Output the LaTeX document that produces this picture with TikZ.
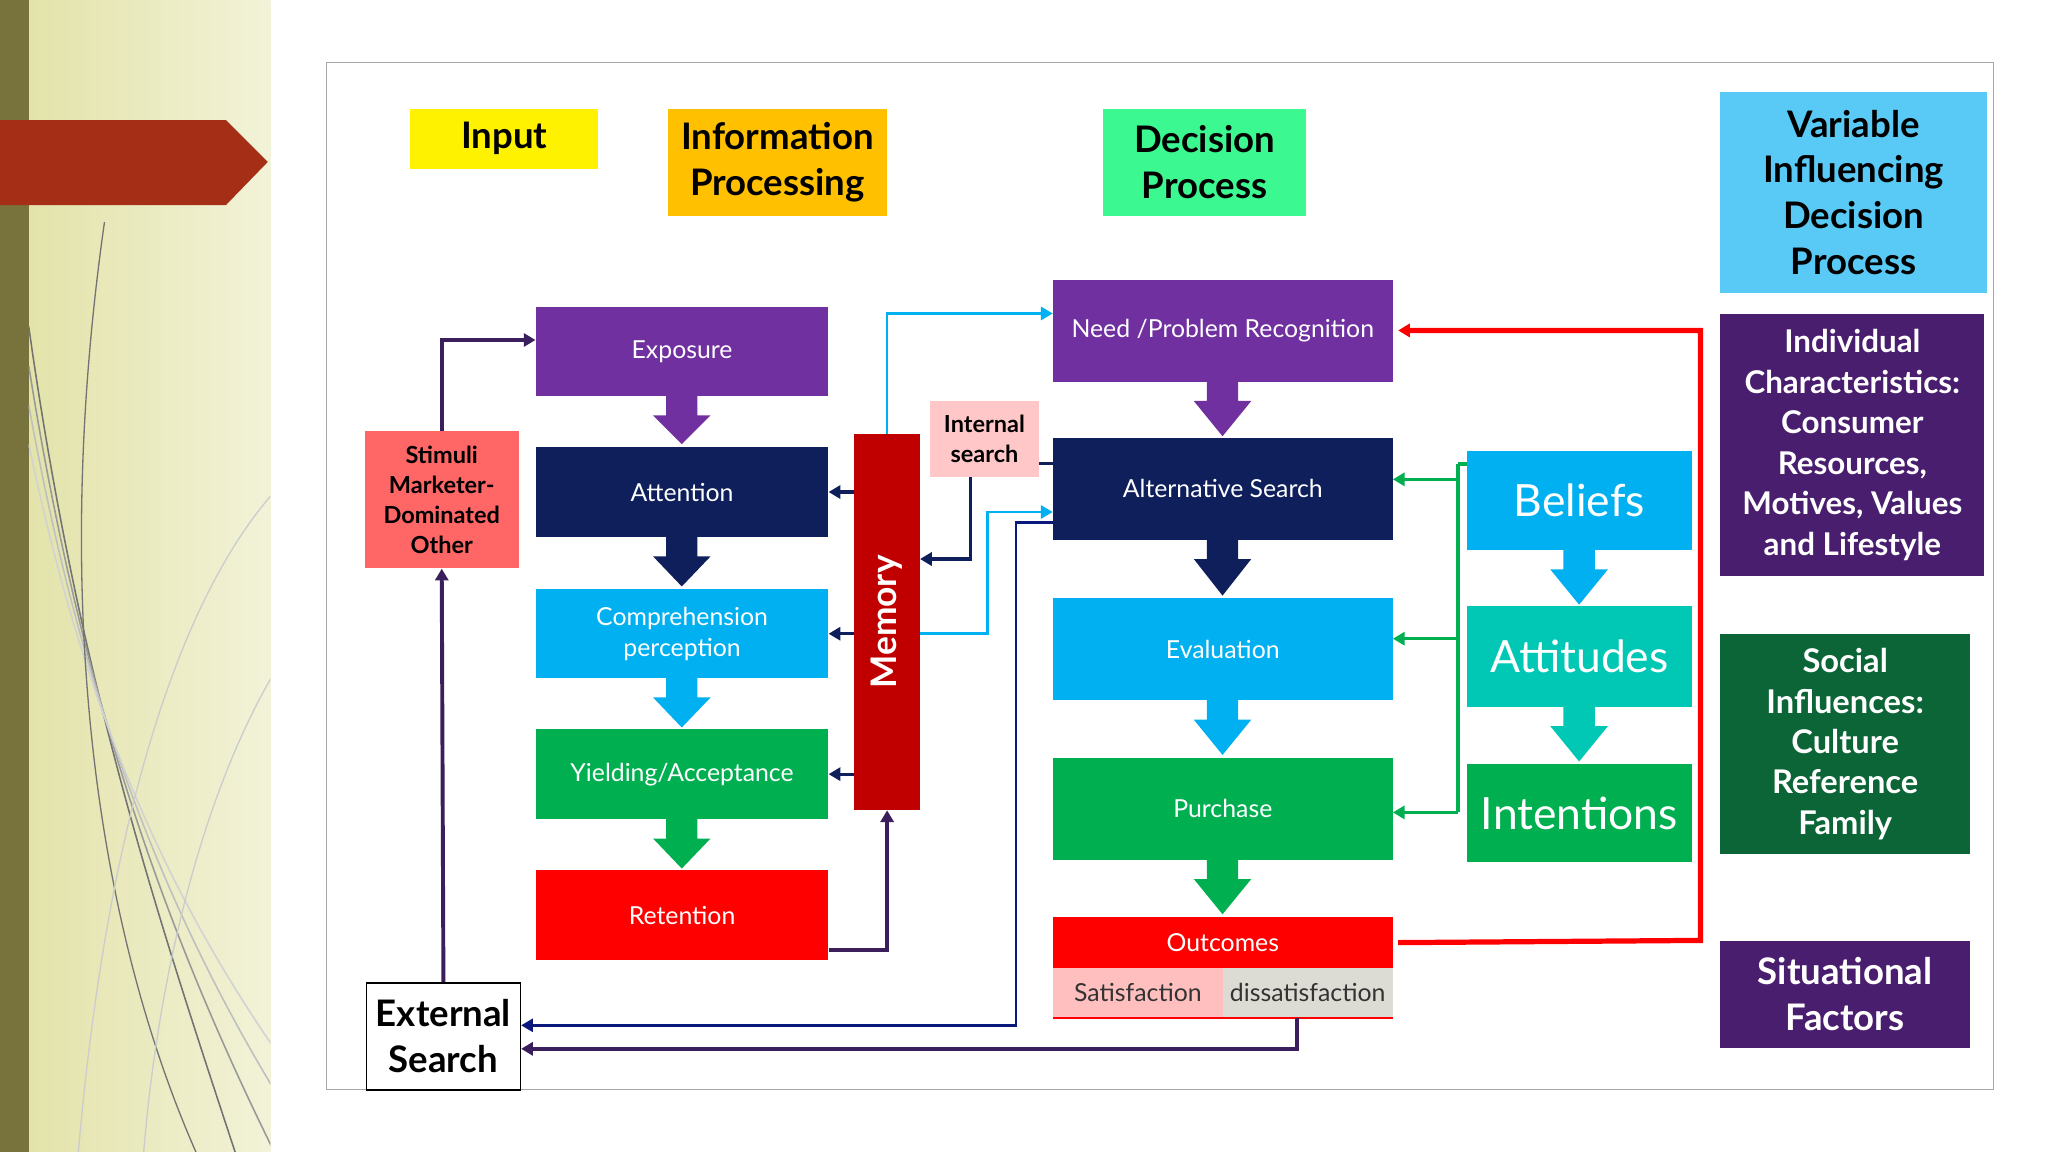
\documentclass[tikz,border=0pt]{standalone}
\usepackage{fontspec}
\setmainfont{Lato}
\usetikzlibrary{arrows.meta,positioning,calc}
\definecolor{cPurple}{HTML}{7030A0}
\definecolor{cNavy}{HTML}{0E1F5B}
\definecolor{cSky}{HTML}{00B0F0}
\definecolor{cGreen}{HTML}{00B050}
\definecolor{cRed}{HTML}{FF0000}
\definecolor{cMaroon}{HTML}{C00000}
\definecolor{cTeal}{HTML}{00C8B4}
\definecolor{cDkPurple}{HTML}{4A1E6E}
\definecolor{cDkGreen}{HTML}{0B6536}
\definecolor{cLink}{HTML}{3B1F5C}
\definecolor{cAmber}{HTML}{FFC000}
\definecolor{cMint}{HTML}{3CF890}
\definecolor{cBanner}{HTML}{A52E17}
\tikzset{
  box/.style={inner sep=0pt, align=center, text=white, anchor=north west},
  head/.style={box, text=black, font=\fontsize{28}{35}\selectfont\bfseries},
  side/.style={box, font=\fontsize{24}{31}\selectfont\bfseries},
  stage/.style={box, font=\fontsize{19}{24}\selectfont},
  big/.style={box, font=\fontsize{34}{38}\selectfont},
  link/.style={line width=3pt, -{Triangle[length=9pt,width=10pt]}},
}
% block arrow: x, top, bottom, colour
\newcommand{\blockdown}[4]{%
  \fill[#4] (#1-12,#2) -- (#1+12,#2) -- (#1+12,#2+15) -- (#1+22,#2+15)
    -- (#1,#3) -- (#1-22,#2+15) -- (#1-12,#2+15) -- cycle;}
\begin{document}
\begin{tikzpicture}[x=1pt,y=-1pt]
\useasboundingbox (0,0) rectangle (1568,882);
% slide background
\fill[white] (0,0) rectangle (1568,882);
\fill[left color=olive!22!white, right color=olive!10!white] (22,0) rectangle (207,882);
\fill[black!30!olive!70!gray] (0,0) rectangle (22,882);
\begin{scope}
\clip (22,0) rectangle (207,882);
\foreach \s/\c in {0/black!55, 30/black!40, 60/gray!50, 90/gray!35}
  \draw[\c, line width=1.2pt] (22,250+\s) .. controls (60,520) and (120,700) .. (180+\s,882);
\draw[black!55, line width=1pt] (80,170) .. controls (40,450) and (70,700) .. (150,882);
\draw[gray!40, line width=1pt] (207,380) .. controls (130,470) and (80,650) .. (60,882);
\draw[gray!40, line width=1pt] (207,520) .. controls (150,620) and (120,760) .. (110,882);
\end{scope}
\fill[cBanner] (0,92) -- (173,92) -- (205,124) -- (173,157) -- (0,157) -- cycle;
% frame
\draw[gray!70, line width=0.8pt] (250,48) rectangle (1526,834);

% headings
\node[head, fill=yellow, minimum width=144, minimum height=46] (input) at (314,83) {Input};
\node[head, fill=cAmber, minimum width=168, minimum height=82] (info) at (511,83) {Information\\Processing};
\node[head, fill=cMint, minimum width=156, minimum height=82] (decp) at (844,83) {Decision\\Process};
\node[head, fill=cyan!65, minimum width=204, minimum height=154] (var) at (1317,70) {Variable\\Influencing\\Decision\\Process};
\node[side, fill=cDkPurple, minimum width=202, minimum height=201] (indiv) at (1317,240) {Individual\\Characteristics:\\Consumer\\Resources,\\Motives, Values\\and Lifestyle};
\node[side, fill=cDkGreen, minimum width=191, minimum height=169, font=\fontsize{25}{31}\selectfont\bfseries] (social) at (1317,485) {Social\\Influences:\\Culture\\Reference\\Family};
\node[side, fill=cDkPurple, minimum width=191, minimum height=82, font=\fontsize{28}{35}\selectfont\bfseries] (situ) at (1317,720) {Situational\\Factors};

% information processing
\node[stage, fill=cPurple, minimum width=224, minimum height=68] (expo) at (410,235) {Exposure};
\node[stage, fill=cNavy, minimum width=224, minimum height=69] (atten) at (410,342) {Attention};
\node[stage, fill=cSky, minimum width=224, minimum height=68] (compr) at (410,451) {Comprehension\\perception};
\node[stage, fill=cGreen, minimum width=224, minimum height=69] (yield) at (410,558) {Yielding/Acceptance};
\node[stage, fill=cRed, minimum width=224, minimum height=69] (reten) at (410,666) {Retention};
\blockdown{522}{303}{340}{cPurple}
\blockdown{522}{411}{449}{cNavy}
\blockdown{522}{519}{557}{cSky}
\blockdown{522}{627}{665}{cGreen}

\node[box, fill=cMaroon, minimum width=50, minimum height=288] (mem) at (654,332) {};
\node[rotate=90, text=white, font=\fontsize{27}{30}\selectfont\bfseries] at (mem.center) {Memory};

\node[box, fill=red!60, text=black, minimum width=118, minimum height=105, font=\fontsize{18}{23}\selectfont\bfseries] (stim) at (279,330) {Stimuli\\Marketer-\\Dominated\\Other};
\node[box, draw=black, line width=1pt, fill=white, text=black, minimum width=118, minimum height=82, font=\fontsize{28}{35}\selectfont\bfseries] (ext) at (280,752) {External\\Search};

% decision process
\node[stage, fill=cPurple, minimum width=260, minimum height=78] (need) at (806,214) {Need /Problem Recognition};
\node[stage, fill=cNavy, minimum width=260, minimum height=78] (alt) at (806,335) {Alternative Search};
\node[stage, fill=cSky, minimum width=260, minimum height=78] (eval) at (806,458) {Evaluation};
\node[stage, fill=cGreen, minimum width=260, minimum height=78] (purch) at (806,580) {Purchase};
\node[stage, fill=cRed, minimum width=260, minimum height=39] (outc) at (806,702) {Outcomes};
\node[stage, fill=red!25, text=black!80, minimum width=130, minimum height=38] (satis) at (806,741) {Satisfaction};
\node[stage, fill=black!10!yellow!10!gray!35, text=black!80, minimum width=130, minimum height=38] (dissat) at (936,741) {dissatisfaction};
\draw[cRed, line width=1pt] (satis.south west) -- (dissat.south east);
\blockdown{936}{292}{334}{cPurple}
\blockdown{936}{413}{456}{cNavy}
\blockdown{936}{536}{578}{cSky}
\blockdown{936}{658}{700}{cGreen}

\node[big, fill=cSky, minimum width=172, minimum height=76] (bel) at (1123,345) {Beliefs};
\node[big, fill=cTeal, minimum width=172, minimum height=77] (att) at (1123,464) {Attitudes};
\node[big, fill=cGreen, minimum width=172, minimum height=75] (intn) at (1123,585) {Intentions};
\blockdown{1209}{421}{463}{cSky}
\blockdown{1209}{541}{583}{cTeal}

% connectors
\draw[link, cLink] (stim.north) |- ($(expo.north west)!0.37!(expo.south west)$);
\draw[link, cLink] (ext.north) -- (stim.south);
\draw[link, cLink] (reten.east |- 0,727) -| (mem.south);
\foreach \n in {atten,compr,yield}
  \draw[link, cNavy, line width=2.5pt] (mem.west |- \n.east) -- (\n.east);
\draw[link, cSky, line width=2pt] (mem.north) |- (need.west |- 0,240);
\draw[link, cNavy, line width=2.5pt] (alt.west |- 0,355) -- (743,355) |- (mem.east |- 0,428);
\node[box, fill=red!22, text=black, minimum width=83, minimum height=58, font=\fontsize{18}{23}\selectfont\bfseries] (isearch) at (712,307) {Internal\\search};
\draw[link, cSky, line width=2pt] (mem.east |- 0,485) -- (756,485) |- (alt.west |- 0,392);
\draw[link, cNavy!80!blue, line width=2pt] (alt.west |- 0,400) -- (778,400) |- (ext.east |- 0,785);
\draw[link, cLink] (dissat.south -| 993,0) -- (993,803) -- (ext.east |- 0,803);
\draw[link, cRed, line width=4pt] ($(outc.east)+(4,0)$) -- (1302,720) |- ($(need.east |- 0,253)+(4,0)$);
\draw[cGreen, line width=3pt] (1116,355) -- (1116,622);
\draw[cGreen, line width=3pt] (1116,355) -- (bel.west |- 0,355);
\foreach \n/\y in {alt/367,eval/489,purch/622}
  \draw[link, cGreen, line width=2.5pt] (1116,\y) -- (\n.east |- 0,\y);
\end{tikzpicture}
\end{document}
